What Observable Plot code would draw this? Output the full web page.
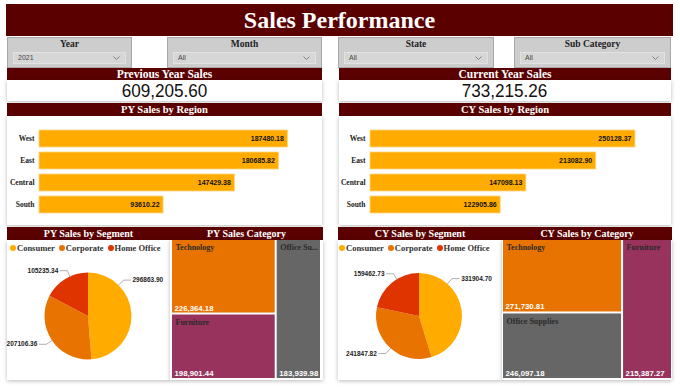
<!DOCTYPE html>
<html>
<head>
<meta charset="utf-8">
<script src="https://cdn.jsdelivr.net/npm/d3@7"></script>
<script src="https://cdn.jsdelivr.net/npm/@observablehq/plot@0.6"></script>
<style>
  html, body { margin: 0; padding: 0; background: #fff; }
  body { width: 680px; height: 387px; position: relative; overflow: hidden; font-family: "Liberation Sans", Arial, sans-serif; }
  .abs { position: absolute; box-sizing: border-box; }
  .hdr { background: #5b0000; color: #fff; font-family: "Liberation Serif", serif; font-weight: bold; text-align: center; white-space: nowrap; overflow: hidden; }
  .panel { background: #fff; box-shadow: 0 1px 4px rgba(0,0,0,0.28); }
  .filter { background: #cdcdcd; border: 1px solid #a8a8a8; }
  .filter .lbl { position: absolute; left: 0; right: 0; top: 1px; text-align: center; font-family: "Liberation Serif", serif; font-weight: bold; font-size: 9.5px; color: #222; }
  .filter .dd { position: absolute; left: 5px; right: 5px; top: 14px; height: 12px; background: #d6d6d6; border: 1px solid #e2e2e2; box-sizing: border-box; }
  .filter .dd span { position: absolute; left: 4px; top: 1px; font-size: 7px; color: #444; }
  .filter .dd svg { position: absolute; right: 5px; top: 3px; }
  .card { font-family: "Liberation Sans", Arial, sans-serif; font-size: 19px; color: #111; text-align: center; line-height: 21px; overflow: hidden; }
  .card span { display: inline-block; transform: scaleX(0.9); transform-origin: center; }
  .legend { font-family: "Liberation Serif", serif; font-weight: bold; font-size: 8.5px; color: #333; display: flex; align-items: center; white-space: nowrap; }
  .legend .it { display: flex; align-items: center; margin-right: 4px; }
  .legend .dot { width: 6px; height: 6px; border-radius: 50%; margin-right: 1px; }
  svg { overflow: visible; }
</style>
</head>
<body>
<script>
// ---------------- data ----------------
const title = "Sales Performance";
const filterLabels = ["Year", "Month", "State", "Sub Category"];
const filterValues = ["2021", "All", "All", "All"];
const regions = ["West", "East", "Central", "South"];
const pyRegionSales = [187480.18, 180685.82, 147429.38, 93610.22];
const cyRegionSales = [250128.37, 213082.90, 147098.13, 122905.86];
const segments = ["Consumer", "Corporate", "Home Office"];
const pySegmentSales = [296863.90, 207106.36, 105235.34];
const cySegmentSales = [331904.70, 241847.82, 159462.73];
const categories = ["Technology", "Furniture", "Office Supplies"];
const pyCategorySales = [226364.18, 198901.44, 183939.98];
const cyCategorySales = [271730.81, 215387.27, 246097.18];
const headers = {
  pyCard: "Previous Year Sales", cyCard: "Current Year Sales",
  pyRegion: "PY Sales by Region", cyRegion: "CY Sales by Region",
  pySeg: "PY Sales by Segment", cySeg: "CY Sales by Segment",
  pyCat: "PY Sales Category", cyCat: "CY Sales by Category"
};

// ---------------- styles ----------------
const barColor = "#FFAB00";
const segColors = ["#FFAB00", "#E87300", "#E03400"];
const catColors = ["#E87300", "#98335E", "#666666"];
const serif = "Liberation Serif, serif";
const sans = "Liberation Sans, Arial, sans-serif";

// ---------------- helpers ----------------
function box(cls, left, top, width, height, html) {
  const d = document.createElement("div");
  d.className = "abs " + cls;
  Object.assign(d.style, {left: left + "px", top: top + "px", width: width + "px", height: height + "px"});
  if (html !== undefined) d.innerHTML = html;
  document.body.appendChild(d);
  return d;
}
function hdr(text, left, top, width, height, fs) {
  const d = box("hdr", left, top, width, height, text);
  d.style.fontSize = fs + "px";
  d.style.lineHeight = height + "px";
  return d;
}
const measureCtx = document.createElement("canvas").getContext("2d");
function truncate(text, font, maxW) {
  measureCtx.font = font;
  if (measureCtx.measureText(text).width <= maxW) return text;
  let t = text;
  while (t.length > 1 && measureCtx.measureText(t + "...").width > maxW) t = t.slice(0, -1);
  return t + "...";
}
const fmt2 = d3.format(".2f");
const fmtC = d3.format(",.2f");

// ---------------- title + filters ----------------
hdr(title, 6, 4, 667, 32, 24);
const filterPos = [[7, 125], [167, 155], [338, 156], [514, 157]];
filterLabels.forEach((lab, i) => {
  const [l, w] = filterPos[i];
  box("filter", l, 37, w, 31,
    `<div class="lbl">${lab}</div><div class="dd"><span>${filterValues[i]}</span>` +
    `<svg width="7" height="4"><polyline points="0.5,0.5 3.5,3.5 6.5,0.5" fill="none" stroke="#777" stroke-width="0.9"/></svg></div>`);
});

// ---------------- cards ----------------
const pyTotal = d3.sum(pyRegionSales), cyTotal = d3.sum(cyRegionSales);
hdr(headers.pyCard, 7, 68, 315, 12, 11.5);
hdr(headers.cyCard, 339, 68, 332, 12, 11.5);
box("panel card", 7, 80, 315, 21, `<span>${fmtC(pyTotal)}</span>`);
box("panel card", 339, 80, 332, 21, `<span>${fmtC(cyTotal)}</span>`);

// ---------------- region bars ----------------
hdr(headers.pyRegion, 7, 103, 315, 13, 10.5);
hdr(headers.cyRegion, 339, 103, 332, 13, 10.5);

function barChart(values, width, marginLeft, marginRight, xMax) {
  const data = regions.map((r, i) => ({region: r, sales: values[i]}));
  return Plot.plot({
    width, height: 109, marginLeft, marginRight, marginTop: 8, marginBottom: 5,
    x: {domain: [0, xMax], axis: null},
    y: {domain: regions, axis: null, padding: 0.22},
    style: {background: "transparent", overflow: "visible"},
    marks: [
      Plot.barX(data, {x: "sales", y: "region", fill: barColor, stroke: "#FFD47F", strokeWidth: 0.8}),
      Plot.text(data, {x: "sales", y: "region", text: d => fmt2(d.sales), textAnchor: "end", dx: -4,
        fontSize: 7, fontWeight: "bold", fontFamily: sans, fill: "#111"}),
      Plot.text(data, {x: 0, y: "region", text: "region", textAnchor: "end", dx: -5,
        fontSize: 7.5, fontWeight: "bold", fontFamily: serif, fill: "#222"})
    ]
  });
}
box("panel", 7, 116, 315, 109).appendChild(barChart(pyRegionSales, 315, 32, 18, 200000));
box("panel", 339, 116, 332, 109).appendChild(barChart(cyRegionSales, 332, 31, 15, 270000));

// ---------------- segment pies ----------------
hdr(headers.pySeg, 7, 227, 163, 13, 10);
hdr(headers.pyCat, 170, 227, 153, 13, 10);
hdr(headers.cySeg, 338, 227, 164, 13, 10);
hdr(headers.cyCat, 502, 227, 170, 13, 10);

function pieChart(values, width, height, cx, cy, R) {
  const data = segments.map((s, i) => ({segment: s, sales: values[i]}));
  const arcs = d3.pie().sort(null).value(d => d.sales)(data);
  const labelFrac = [0.25, 0.5, 0.6];
  const labels = arcs.map((a, i) => {
    const ang = a.startAngle + labelFrac[i] * (a.endAngle - a.startAngle);
    const sx = Math.sin(ang), sy = -Math.cos(ang);
    const side = sx >= 0 ? 1 : -1;
    const k = 1 + 7 / R;
    const p0 = [sx, sy], p1 = [sx * k, sy * k], p2 = [p1[0] + side * 7 / R, p1[1]];
    return {segment: a.data.segment, sales: a.data.sales, pts: [p0, p1, p2],
      tx: p2[0] + side * 2 / R, ty: p2[1], side};
  });
  const linePts = labels.flatMap(l => l.pts.map(p => ({segment: l.segment, x: p[0], y: p[1]})));
  const textOpts = {x: "tx", y: "ty", text: d => fmt2(d.sales), fontSize: 6.5, fontWeight: "bold", fontFamily: sans, fill: "#222"};
  return Plot.plot({
    width, height, marginLeft: 0, marginRight: 0, marginTop: 0, marginBottom: 0,
    x: {domain: [-cx / R, (width - cx) / R], range: [0, width], axis: null},
    y: {domain: [-cy / R, (height - cy) / R], range: [0, height], axis: null},
    color: {domain: segments, range: segColors},
    style: {background: "transparent", overflow: "visible"},
    marks: [
      (index, scales) => {
        const col = scales.color || (s => segColors[segments.indexOf(s)]);
        const r = scales.x(1) - scales.x(0);
        const arc = d3.arc().innerRadius(0).outerRadius(r);
        const g = d3.create("svg:g").attr("transform", `translate(${scales.x(0)},${scales.y(0)})`);
        g.selectAll("path").data(arcs).join("path").attr("d", arc).attr("fill", d => col(d.data.segment));
        return g.node();
      },
      Plot.line(linePts, {x: "x", y: "y", z: "segment", stroke: "#9a9a9a", strokeWidth: 0.8}),
      Plot.text(labels.filter(l => l.side > 0), {...textOpts, textAnchor: "start"}),
      Plot.text(labels.filter(l => l.side < 0), {...textOpts, textAnchor: "end"})
    ]
  });
}
function legend(container, left) {
  const lg = document.createElement("div");
  lg.className = "abs legend";
  Object.assign(lg.style, {left: left + "px", top: "3px"});
  lg.innerHTML = segments.map((s, i) => `<div class="it"><div class="dot" style="background:${segColors[i]}"></div>${s}</div>`).join("");
  container.appendChild(lg);
}
const pyPie = box("panel", 7, 240, 163, 140);
pyPie.appendChild(pieChart(pySegmentSales, 163, 140, 81, 76, 43.5));
legend(pyPie, 3);
const cyPie = box("panel", 338, 240, 164, 140);
cyPie.appendChild(pieChart(cySegmentSales, 164, 140, 81, 76, 43));
legend(cyPie, 1);

// ---------------- category treemaps ----------------
function treemapChart(values, width, height, ml, mr, mt, mb) {
  const W = width - ml - mr, H = height - mt - mb;
  const root = d3.hierarchy({children: categories.map((c, i) => ({category: c, sales: values[i]}))})
    .sum(d => d.sales || 0).sort((a, b) => b.value - a.value);
  d3.treemap().size([W, H]).paddingInner(2).tile(d3.treemapSquarify)(root);
  const cells = root.leaves().map(l => ({category: l.data.category, sales: l.data.sales, x0: l.x0, x1: l.x1, y0: l.y0, y1: l.y1}));
  const nameFont = "bold 8px " + serif;
  return Plot.plot({
    width, height, marginLeft: ml, marginRight: mr, marginTop: mt, marginBottom: mb,
    x: {domain: [0, W], range: [ml, width - mr], axis: null},
    y: {domain: [0, H], range: [mt, height - mb], axis: null},
    color: {domain: categories, range: catColors},
    style: {background: "transparent", overflow: "visible"},
    marks: [
      Plot.rect(cells, {x1: "x0", x2: "x1", y1: "y0", y2: "y1", fill: "category"}),
      Plot.text(cells, {x: "x0", y: "y0", text: d => truncate(d.category, nameFont, d.x1 - d.x0 - 3),
        dx: 3, dy: 7, textAnchor: "start", fontFamily: serif, fontWeight: "bold", fontSize: 8, fill: "#2a2a2a"}),
      Plot.text(cells, {x: "x0", y: "y1", text: d => fmtC(d.sales),
        dx: 2, dy: -5, textAnchor: "start", fontFamily: sans, fontWeight: "bold", fontSize: 7.8, fill: "#fff"})
    ]
  });
}
box("panel", 170, 240, 153, 140).appendChild(treemapChart(pyCategorySales, 153, 140, 2, 3, 0, 2));
box("panel", 502, 240, 170, 140).appendChild(treemapChart(cyCategorySales, 170, 140, 1, 1, 0, 2));
</script>
</body>
</html>
